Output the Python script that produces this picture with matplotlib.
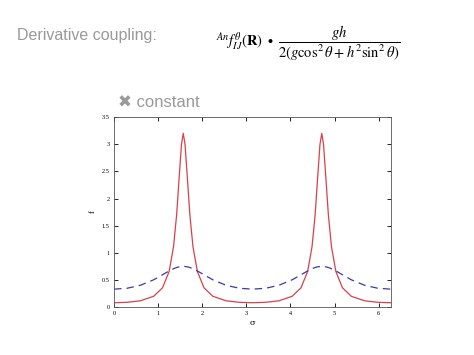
import matplotlib
matplotlib.use("Agg")
from matplotlib import pyplot as plt

# Values (one peak per half period).
sigma = [0.00, 0.30, 0.60, 0.90, 1.10, 1.25, 1.35, 1.42, 1.48, 1.53, 1.57,
         1.61, 1.66, 1.72, 1.79, 1.89, 2.04, 2.24, 2.54, 2.84, 3.14,
         3.44, 3.74, 4.04, 4.24, 4.39, 4.49, 4.56, 4.62, 4.67, 4.71,
         4.75, 4.80, 4.86, 4.93, 5.03, 5.18, 5.38, 5.68, 5.98, 6.28]
f_red = [0.080, 0.088, 0.116, 0.199, 0.355, 0.656, 1.115, 1.70, 2.42, 3.00, 3.20,
         3.00, 2.42, 1.70, 1.115, 0.656, 0.355, 0.199, 0.116, 0.088, 0.080,
         0.088, 0.116, 0.199, 0.355, 0.656, 1.115, 1.70, 2.42, 3.00, 3.20,
         3.00, 2.42, 1.70, 1.115, 0.656, 0.355, 0.199, 0.116, 0.088, 0.080]
f_blue = [0.330, 0.347, 0.402, 0.503, 0.595, 0.666, 0.707, 0.729, 0.742, 0.748, 0.750,
          0.748, 0.742, 0.729, 0.707, 0.666, 0.595, 0.503, 0.402, 0.347, 0.330,
          0.347, 0.402, 0.503, 0.595, 0.666, 0.707, 0.729, 0.742, 0.748, 0.750,
          0.748, 0.742, 0.729, 0.707, 0.666, 0.595, 0.503, 0.402, 0.347, 0.330]

x_ticks = [0, 1, 2, 3, 4, 5, 6]
y_ticks = [0, 0.5, 1, 1.5, 2, 2.5, 3, 3.5]
y_tick_labels = ["0", "0.5", "1", "1.5", "2", "2.5", "3", "3.5"]

plt.rcParams['mathtext.fontset'] = 'stix'

fig = plt.figure(dpi=100, figsize=(4.74, 3.55))

# Slide texts
fig.text(0.035, 0.9, "Derivative coupling:", fontsize=11.5, color='#999999',
         family='Liberation Sans', va='center')
fig.text(0.455, 0.877,
         r"$^{An}f_{IJ}^{\theta}(\mathbf{R})\ \bullet\ "
         r"\dfrac{gh}{2(g\cos^2\theta + h^2\sin^2\theta)}$",
         fontsize=10.5, color='black', va='center')
fig.text(0.25, 0.712, "\u2716 constant", fontsize=12, color='#999999',
         family=['Liberation Sans', 'DejaVu Sans'], va='center')

ax = fig.add_axes([0.2405, 0.135, 0.5844, 0.5352])
ax.plot(sigma, f_red, color='#d9404a', lw=0.9)
ax.plot(sigma, f_blue, color='#3a3aa8', lw=0.9, ls=(0, (6, 4)))

ax.set_xlim(0, 6.28)
ax.set_ylim(0, 3.5)
ax.set_xticks(x_ticks)
ax.set_yticks(y_ticks)
ax.set_yticklabels(y_tick_labels)
ax.tick_params(direction='in', top=True, right=True, length=3, width=0.6,
               labelsize=4.5, pad=3)
for lbl in ax.get_xticklabels() + ax.get_yticklabels():
    lbl.set_family('Liberation Serif')
for s in ax.spines.values():
    s.set_linewidth(0.6)
    s.set_color('#555555')
ax.set_xlabel("\u03c3", fontsize=6, family='DejaVu Serif', labelpad=2)
ax.set_ylabel("f", fontsize=6, family='Liberation Serif', rotation=90, labelpad=4)

plt.savefig("out.png", dpi=100)
